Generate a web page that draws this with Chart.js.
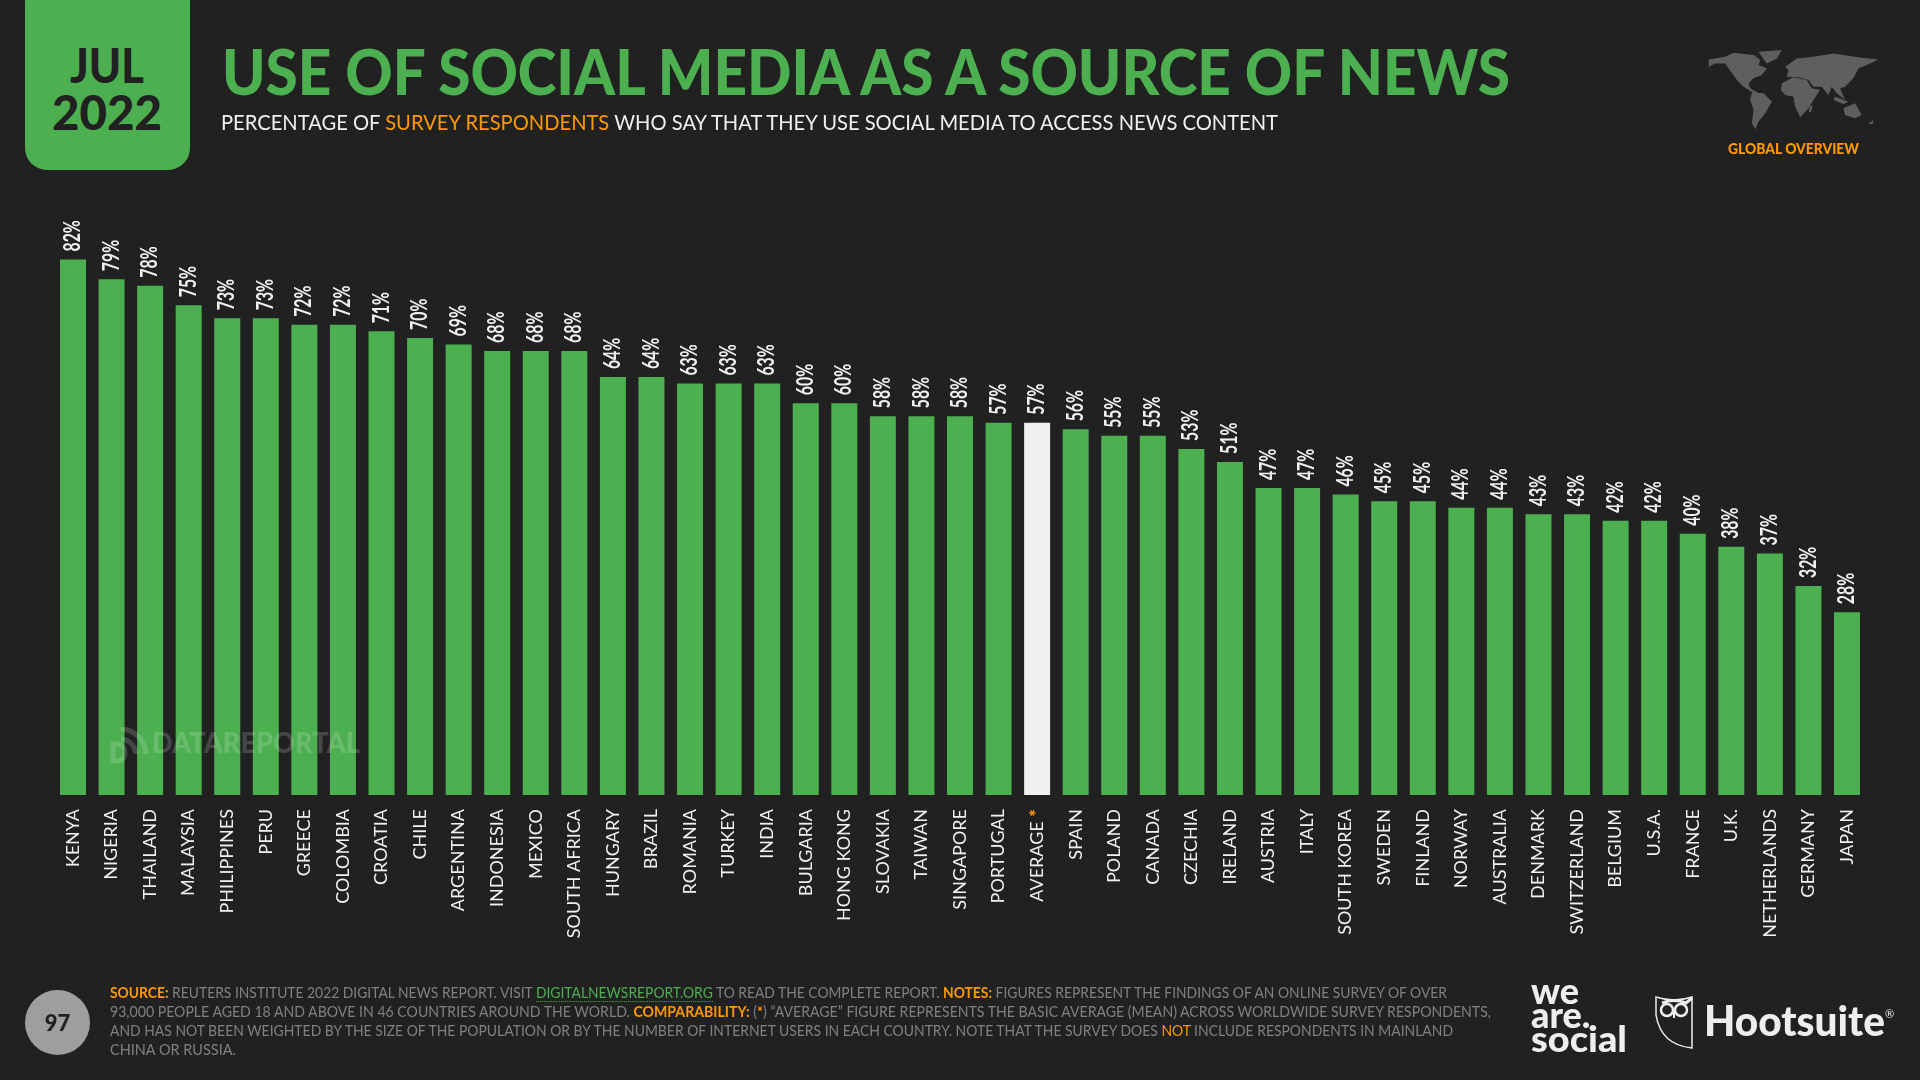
<!DOCTYPE html>
<html>
<head>
<meta charset="utf-8">
<title>Use of social media as a source of news</title>
<script src="https://cdn.jsdelivr.net/npm/chart.js@4"></script>
<style>
  html, body { margin: 0; padding: 0; background: #212121; }
  #page { position: relative; width: 1920px; height: 1080px; overflow: hidden; background: #212121; font-family: Lato, sans-serif; }
  #chart { position: absolute; left: 0; top: 0; }
  .abs { position: absolute; white-space: nowrap; transform-origin: left top; }
  .o { color: #ff9800; }
  .ob { color: #ff9800; font-weight: 700; }
  .g { color: #4caf50; border-bottom: 1px dotted #4caf50; }
  #tab { position: absolute; left: 25px; top: -20px; width: 165px; height: 190px; background: #4caf50; border-radius: 22px; }
  #circle { position: absolute; left: 25px; top: 990px; width: 65px; height: 65px; border-radius: 50%; background: #9e9e9e; }
</style>
</head>
<body>
<div id="page">
  <canvas id="chart" width="1920" height="1080"></canvas>

  <div id="tab"></div>
  <div class="abs fit" data-w="74" style="left:70px;top:37px;font-size:47px;font-weight:900;color:#212121">JUL</div>
  <div class="abs fit" data-w="110" style="left:52px;top:84px;font-size:47px;font-weight:900;color:#212121">2022</div>

  <div class="abs fit" data-w="1288" style="left:222px;top:34px;font-size:62px;font-weight:900;color:#4caf50">USE OF SOCIAL MEDIA AS A SOURCE OF NEWS</div>
  <div class="abs fit" data-w="1057" style="left:221px;top:108px;font-size:22px;font-weight:400;color:#f0f0f0">PERCENTAGE OF <span class="o">SURVEY RESPONDENTS</span> WHO SAY THAT THEY USE SOCIAL MEDIA TO ACCESS NEWS CONTENT</div>

  <svg class="abs" style="left:1707px;top:50px" width="173" height="82" viewBox="920 150 520 246" fill="#5f5f5f">
    <polygon points="925,178 975,170 1000,158 1060,165 1080,180 1075,195 1100,205 1085,225 1060,235 1045,250 1050,265 1075,280 1060,280 1030,260 1010,240 985,205 975,190 945,190 925,200"/>
    <polygon points="1075,155 1145,150 1130,175 1100,190 1085,170"/>
    <polygon points="1055,278 1090,280 1115,305 1095,340 1075,365 1065,388 1055,370 1060,330 1050,300"/>
    <polygon points="1145,250 1180,232 1220,240 1235,265 1260,270 1240,300 1225,325 1200,352 1185,320 1180,290 1155,285 1142,270"/>
    <polygon points="1155,200 1190,175 1240,170 1300,160 1380,172 1435,178 1400,195 1375,205 1360,235 1335,260 1320,265 1335,300 1310,280 1295,260 1285,285 1265,260 1240,260 1225,240 1195,232 1160,230 1165,210"/>
    <polygon points="1330,325 1365,310 1385,345 1365,355 1335,345"/>
    <polygon points="1305,290 1345,305 1330,312 1300,300"/>
    <polygon points="1405,372 1420,360 1418,372"/>
    <polygon points="1228,320 1238,315 1232,338 1226,335"/>
  </svg>
  <div class="abs fit" data-w="131" style="left:1728px;top:139px;font-size:15px;font-weight:900;color:#ff9800">GLOBAL OVERVIEW</div>

  <div id="circle"></div>
  <div class="abs" style="left:25px;width:65px;text-align:center;top:1009px;font-size:22px;font-weight:900;color:#212121">97</div>

  <div class="abs fit" data-w="1337" style="left:110px;top:984px;font-size:14.5px;color:#808080"><span class="ob">SOURCE:</span> REUTERS INSTITUTE 2022 DIGITAL NEWS REPORT. VISIT <span class="g">DIGITALNEWSREPORT.ORG</span> TO READ THE COMPLETE REPORT. <span class="ob">NOTES:</span> FIGURES REPRESENT THE FINDINGS OF AN ONLINE SURVEY OF OVER</div>
  <div class="abs fit" data-w="1381" style="left:110px;top:1003px;font-size:14.5px;color:#808080">93,000 PEOPLE AGED 18 AND ABOVE IN 46 COUNTRIES AROUND THE WORLD. <span class="ob">COMPARABILITY:</span> (<span class="ob">*</span>) “AVERAGE” FIGURE REPRESENTS THE BASIC AVERAGE (MEAN) ACROSS WORLDWIDE SURVEY RESPONDENTS,</div>
  <div class="abs fit" data-w="1343" style="left:110px;top:1022px;font-size:14.5px;color:#808080">AND HAS NOT BEEN WEIGHTED BY THE SIZE OF THE POPULATION OR BY THE NUMBER OF INTERNET USERS IN EACH COUNTRY. NOTE THAT THE SURVEY DOES <span class="o">NOT</span> INCLUDE RESPONDENTS IN MAINLAND</div>
  <div class="abs fit" data-w="126" style="left:110px;top:1041px;font-size:14.5px;color:#808080">CHINA OR RUSSIA.</div>

  <div class="abs" style="left:1531px;top:978px;font-size:36px;line-height:24px;font-weight:900;color:#eeeeee">
    <div>we</div><div>are.</div><div class="fit abs" data-w="96" style="left:0;top:48px">social</div>
  </div>
  <svg class="abs" style="left:1655px;top:995px" width="38" height="54" viewBox="0 0 38 54" fill="none" stroke="#eeeeee" stroke-width="1.5">
    <path d="M1 2 Q19 8 37 2 L37 53 Q6 50 1 20 Z"/>
    <circle cx="12" cy="15" r="6" stroke-width="2.5"/>
    <circle cx="26" cy="15" r="6" stroke-width="2.5"/>
    <path d="M7 8 Q19 3 31 8 L37 3" stroke-width="3"/>
    <path d="M19 17 L19 23" stroke-width="2"/>
  </svg>
  <div class="abs fit" data-w="181" style="left:1704px;top:995px;font-size:42px;font-weight:900;color:#eeeeee">Hootsuite</div>
  <div class="abs" style="left:1885px;top:1007px;font-size:11px;color:#eeeeee">®</div>

  <svg class="abs" style="left:110px;top:727px" width="38" height="36" viewBox="0 0 38 36" fill="none" stroke="rgba(255,255,255,0.17)">
    <path d="M11 2 A26 26 0 0 1 36 27" stroke-width="5"/>
    <path d="M11 12 A16 16 0 0 1 26 27" stroke-width="5"/>
    <path d="M3 17 L9 17 A9 9 0 0 1 9 34 L3 34 Z" stroke-width="5"/>
  </svg>
  <div class="abs fit" data-w="208" style="left:152px;top:725px;font-size:28px;font-weight:900;color:rgba(255,255,255,0.17)">DATAREPORTAL</div>
</div>

<script>
// Share of respondents using social media for news, one bar per country.
const COUNTRIES = ["KENYA", "NIGERIA", "THAILAND", "MALAYSIA", "PHILIPPINES", "PERU", "GREECE", "COLOMBIA",
                   "CROATIA", "CHILE", "ARGENTINA", "INDONESIA", "MEXICO", "SOUTH AFRICA", "HUNGARY", "BRAZIL",
                   "ROMANIA", "TURKEY", "INDIA", "BULGARIA", "HONG KONG", "SLOVAKIA", "TAIWAN", "SINGAPORE",
                   "PORTUGAL", "AVERAGE *", "SPAIN", "POLAND", "CANADA", "CZECHIA", "IRELAND", "AUSTRIA",
                   "ITALY", "SOUTH KOREA", "SWEDEN", "FINLAND", "NORWAY", "AUSTRALIA", "DENMARK", "SWITZERLAND",
                   "BELGIUM", "U.S.A.", "FRANCE", "U.K.", "NETHERLANDS", "GERMANY", "JAPAN"];
const SHARES = [82, 79, 78, 75, 73, 73, 72, 72,
                71, 70, 69, 68, 68, 68, 64, 64,
                63, 63, 63, 60, 60, 58, 58, 58,
                57, 57, 56, 55, 55, 53, 51, 47,
                47, 46, 45, 45, 44, 44, 43, 43,
                42, 42, 40, 38, 37, 32, 28];
const AVERAGE_LABEL = "AVERAGE *";

const GREEN = "#4caf50";
const AVERAGE_COLOR = "#f0f0f0";
const TICK_FONT = "18px Lato";

// Squeeze text boxes to the widths they have in the slide
function fitText() {
  document.querySelectorAll(".fit").forEach(function (el) {
    const w = el.getBoundingClientRect().width;
    el.style.transform = "scaleX(" + (Number(el.dataset.w) / w) + ")";
  });
}

// Narrow rotated percentages above the bars
const barLabels = {
  id: "barLabels",
  afterDatasetsDraw: function (chart) {
    const ctx = chart.ctx;
    chart.getDatasetMeta(0).data.forEach(function (bar, i) {
      ctx.save();
      ctx.translate(bar.x, bar.y - 8);
      ctx.rotate(-Math.PI / 2);
      ctx.scale(0.72, 1);
      ctx.font = "700 22px Lato";
      ctx.fillStyle = "#f0f0f0";
      ctx.textAlign = "left";
      ctx.textBaseline = "middle";
      ctx.fillText(SHARES[i] + "%", 0, 0);
      ctx.restore();
    });
  }
};

// The average tick has an orange asterisk, so it is drawn in two parts
const averageTick = {
  id: "averageTick",
  afterDraw: function (chart) {
    const ctx = chart.ctx;
    const scale = chart.scales.x;
    const idx = COUNTRIES.indexOf(AVERAGE_LABEL);
    ctx.save();
    ctx.translate(scale.getPixelForTick(idx), scale.top + 14);
    ctx.rotate(-Math.PI / 2);
    ctx.font = "900 " + TICK_FONT;
    ctx.textAlign = "right";
    ctx.textBaseline = "middle";
    ctx.fillStyle = "#ff9800";
    ctx.fillText("*", 0, 0);
    const starWidth = ctx.measureText("*").width;
    ctx.font = TICK_FONT;
    ctx.fillStyle = "#f0f0f0";
    ctx.fillText("AVERAGE ", -starWidth, 0);
    ctx.restore();
  }
};

function renderChart() {
  new Chart(document.getElementById("chart").getContext("2d"), {
    type: "bar",
    data: {
      labels: COUNTRIES,
      datasets: [{
        data: SHARES,
        backgroundColor: COUNTRIES.map(function (c) { return c === AVERAGE_LABEL ? AVERAGE_COLOR : GREEN; }),
        categoryPercentage: 1,
        barPercentage: 0.674
      }]
    },
    options: {
      responsive: false,
      animation: false,
      devicePixelRatio: 1,
      layout: { padding: { left: 53.7, right: 53.7, top: 142, bottom: 0 } },
      plugins: { legend: { display: false }, tooltip: { enabled: false } },
      scales: {
        x: {
          grid: { display: false, drawTicks: false },
          border: { display: false },
          afterFit: function (scale) { scale.height = 285; scale.paddingLeft = 0; scale.paddingRight = 0; },
          ticks: {
            autoSkip: false,
            minRotation: 90,
            maxRotation: 90,
            padding: 14,
            font: { family: "Lato", size: 18 },
            color: function (c) { return c.index === COUNTRIES.indexOf(AVERAGE_LABEL) ? "rgba(0,0,0,0)" : "#f0f0f0"; }
          }
        },
        y: { display: false, min: 0, max: 100 }
      }
    },
    plugins: [barLabels, averageTick]
  });
}

document.fonts.ready.then(function () {
  fitText();
  renderChart();
});
</script>
</body>
</html>
